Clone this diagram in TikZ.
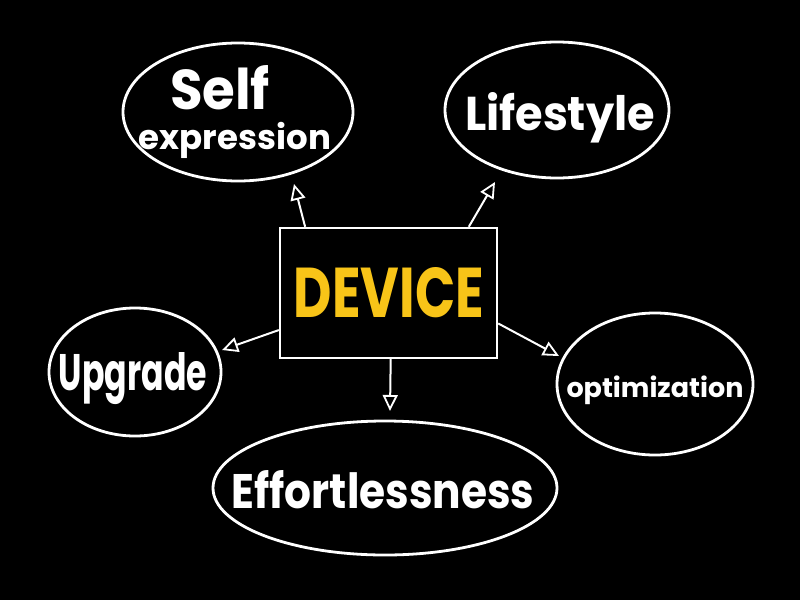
\documentclass[tikz,border=0pt]{standalone}
\usepackage{fontspec}
\setmainfont{Poppins}
\usetikzlibrary{arrows.meta,shapes.geometric,calc}
\definecolor{devyellow}{RGB}{248,196,24}
\begin{document}
\begin{tikzpicture}[x=1pt,y=-1pt,
  bubble/.style={draw=white,line width=2.8pt,ellipse,inner sep=0pt},
  lbl/.style={text=white,anchor=base,inner sep=0pt,font=\bfseries},
  conn/.style={draw=white,line width=2pt,-{Triangle[open,length=16pt,width=15pt,line width=1.8pt]}}]
\fill[black] (0,0) rectangle (800,600);
\useasboundingbox (0,0) rectangle (800,600);
% bubbles
\node[bubble,minimum width=230pt,minimum height=138pt] (self) at (238,112) {};
\node[bubble,minimum width=224pt,minimum height=136pt] (life) at (557,110) {};
\node[bubble,minimum width=172pt,minimum height=128pt] (upg) at (135,372) {};
\node[bubble,minimum width=196pt,minimum height=142pt] (opt) at (655,384) {};
\node[bubble,minimum width=344pt,minimum height=134pt] (eff) at (385,488) {};
\node[draw=white,line width=2.4pt,minimum width=217pt,minimum height=130pt,inner sep=0pt] (dev) at (388.5,293) {};
% labels
\node[lbl] (tself) at (220,109) {\resizebox{100pt}{44pt}{Self}};
\node[lbl] (texp) at (235,149) {\resizebox{192pt}{!}{expression}};
\node[lbl] (tlife) at (560,130) {\resizebox{190pt}{38pt}{Lifestyle}};
\node[lbl] (tupg) at (133,390) {\resizebox{148pt}{38pt}{Upgrade}};
\node[lbl] (teff) at (383,508) {\resizebox{303pt}{38pt}{Effortlessness}};
\node[lbl] (topt) at (655,397) {\resizebox{177pt}{!}{optimization}};
\node[lbl,text=devyellow] (tdev) at (389,317) {\resizebox{190pt}{50pt}{DEVICE}};
% arrow tips
\coordinate (tl) at (294,184);
\coordinate (tr) at (495,182);
\coordinate (lt) at (222,350);
\coordinate (rt) at (559,356);
\coordinate (bt) at (390,411);
\draw[conn] ($(dev.north west)!0.12!(dev.north east)$) -- (tl);
\draw[conn] ($(dev.north west)!0.866!(dev.north east)$) -- (tr);
\draw[conn] ($(dev.north west)!0.78!(dev.south west)$) -- (lt);
\draw[conn] ($(dev.north east)!0.73!(dev.south east)$) -- (rt);
\draw[conn] ($(dev.south west)!0.51!(dev.south east)$) -- (bt);
\end{tikzpicture}
\end{document}
